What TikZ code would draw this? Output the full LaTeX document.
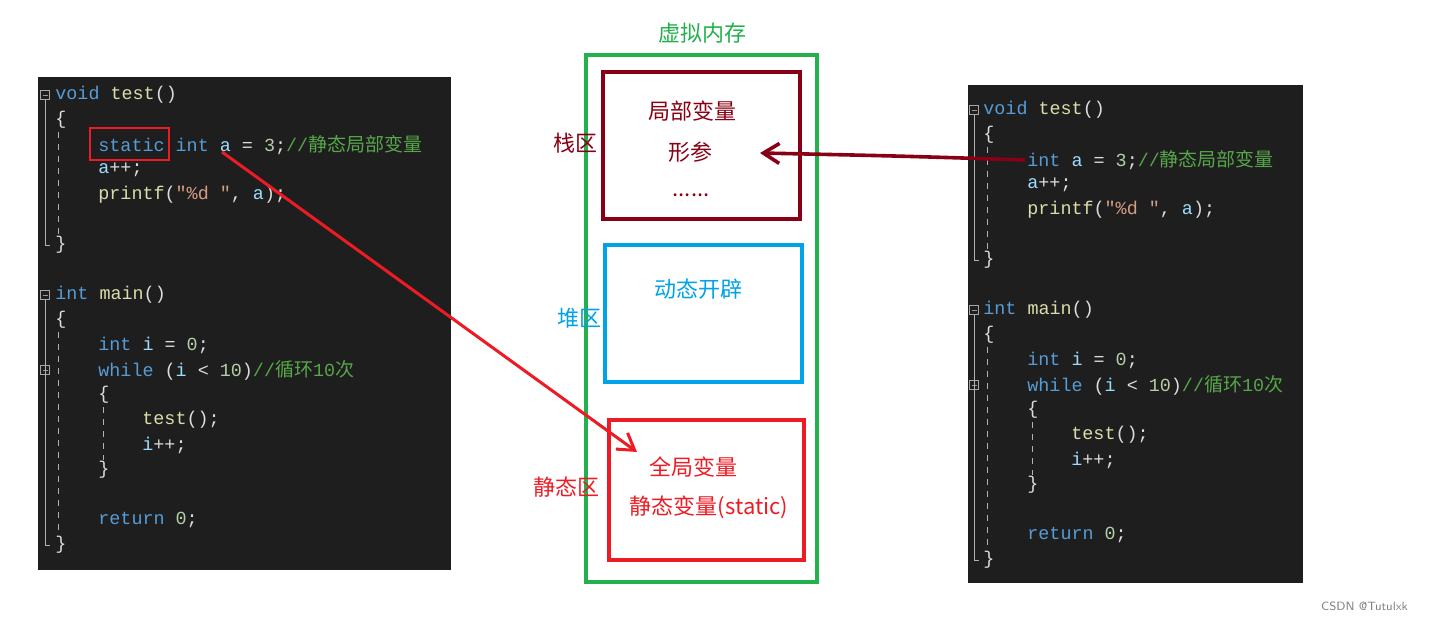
\documentclass[tikz,border=0pt]{standalone}
\usepackage{fontspec}
\usetikzlibrary{arrows.meta}
\setmonofont{Liberation Mono}
\newfontfamily\cjk{Noto Sans CJK SC}
\newfontfamily\cjkm{Noto Sans CJK SC}
\definecolor{bg}{HTML}{1E1E1E}
\definecolor{kw}{HTML}{569CD6}
\definecolor{fn}{HTML}{DCDCAA}
\definecolor{st}{HTML}{D69D85}
\definecolor{cm}{HTML}{57A64A}
\definecolor{nm}{HTML}{B5CEA8}
\definecolor{tx}{HTML}{DCDCDC}
\definecolor{vr}{HTML}{9CDCFE}
\definecolor{gbox}{HTML}{22B14C}
\definecolor{dred}{HTML}{880015}
\definecolor{hblue}{HTML}{00A2E8}
\definecolor{sred}{HTML}{ED1C24}
\newcommand{\cK}[1]{\textcolor{kw}{#1}}
\newcommand{\cF}[1]{\textcolor{fn}{#1}}
\newcommand{\cS}[1]{\textcolor{st}{#1}}
\newcommand{\cC}[1]{\textcolor{cm}{#1}}
\newcommand{\cN}[1]{\textcolor{nm}{#1}}
\newcommand{\cV}[1]{\textcolor{vr}{#1}}
\newcommand{\cZ}[1]{{\cjkm\fontsize{9.5}{10}\selectfont #1}}
\tikzset{code/.style={anchor=west,inner sep=0pt,text=tx,font=\ttfamily\fontsize{9.2}{10}\selectfont},
 lab/.style={font=\cjk\fontsize{11}{12}\selectfont,inner sep=0pt},
 fold/.style={draw=gray!70,line width=0.4pt,minimum size=4.5pt,inner sep=0pt,
   path picture={\draw[gray!80,line width=0.4pt] ([xshift=1pt]path picture bounding box.west) -- ([xshift=-1pt]path picture bounding box.east);}},
 guide/.style={draw=gray!60,line width=0.4pt}}
\begin{document}
\begin{tikzpicture}[x=0.5pt,y=-0.5pt]
\useasboundingbox (0,0) rectangle (1431,620);
\fill[white] (0,0) rectangle (1431,620);
% left panel
\fill[bg] (38,77) rectangle (451,570);
\node[code] (a1) at (55,95) {\cK{void} \cF{test}()};
\node[code] (a2) at (55,120) {\{};
\node[code] (a3) at (98,145) {\cK{static} \cK{int} \cV{a} = \cN{3};\cC{//\cZ{静态局部变量}}};
\node[code] (a4) at (98,170) {\cV{a}++;};
\node[code] (a5) at (98,195) {\cF{printf}(\cS{"\%d "}, \cV{a});};
\node[code] (a6) at (55,245) {\}};
\node[code] (a7) at (55,295) {\cK{int} \cF{main}()};
\node[code] (a8) at (55,320) {\{};
\node[code] (a9) at (98,345) {\cK{int} \cV{i} = \cN{0};};
\node[code] (a10) at (98,370) {\cK{while} (\cV{i} < \cN{10})\cC{//\cZ{循环}10\cZ{次}}};
\node[code] (a11) at (98,395) {\{};
\node[code] (a12) at (142,420) {\cF{test}();};
\node[code] (a13) at (142,445) {\cV{i}++;};
\node[code] (a14) at (98,470) {\}};
\node[code] (a15) at (98,520) {\cK{return} \cN{0};};
\node[code] (a16) at (55,545) {\}};
\foreach \y in {95,295,370} \node[fold] at (45,\y) {};
\draw[guide] (45,100) -- (45,245) -- (50,245);
\draw[guide] (45,300) -- (45,545) -- (50,545);
\draw[guide,dashed] (58,132) -- (58,235);
\draw[guide,dashed] (58,332) -- (58,535);
\draw[guide,dashed] (103,407) -- (103,460);
% right panel
\fill[bg] (968,85) rectangle (1303,583);
\node[code] (b1) at (983,110) {\cK{void} \cF{test}()};
\node[code] (b2) at (983,135) {\{};
\node[code] (b3) at (1027,160) {\cK{int} \cV{a} = \cN{3};\cC{//\cZ{静态局部变量}}};
\node[code] (b4) at (1027,185) {\cV{a}++;};
\node[code] (b5) at (1027,210) {\cF{printf}(\cS{"\%d "}, \cV{a});};
\node[code] (b6) at (983,260) {\}};
\node[code] (b7) at (983,310) {\cK{int} \cF{main}()};
\node[code] (b8) at (983,335) {\{};
\node[code] (b9) at (1027,360) {\cK{int} \cV{i} = \cN{0};};
\node[code] (b10) at (1027,385) {\cK{while} (\cV{i} < \cN{10})\cC{//\cZ{循环}10\cZ{次}}};
\node[code] (b11) at (1027,410) {\{};
\node[code] (b12) at (1071,435) {\cF{test}();};
\node[code] (b13) at (1071,460) {\cV{i}++;};
\node[code] (b14) at (1027,485) {\}};
\node[code] (b15) at (1027,535) {\cK{return} \cN{0};};
\node[code] (b16) at (983,560) {\}};
\foreach \y in {110,310,385} \node[fold] at (974,\y) {};
\draw[guide] (974,115) -- (974,260) -- (979,260);
\draw[guide] (974,315) -- (974,560) -- (979,560);
\draw[guide,dashed] (987,147) -- (987,250);
\draw[guide,dashed] (987,347) -- (987,550);
\draw[guide,dashed] (1032,422) -- (1032,475);
% memory
\node[lab,text=gbox] (title) at (702,33) {虚拟内存};
\draw[gbox,line width=1.6pt] (586,55) rectangle (817,582);
\draw[dred,line width=1.6pt] (603,72) rectangle (800,219);
\node[lab,text=dred] (s1) at (692,111) {局部变量};
\node[lab,text=dred] (s2) at (690,152) {形参};
\node[lab,text=dred] (s3) at (691,195) {......};
\node[lab,text=dred] (sl) at (575,143) {栈区};
\draw[hblue,line width=1.6pt] (605,245) rectangle (802,382);
\node[lab,text=hblue] (h1) at (698,289) {动态开辟};
\node[lab,text=hblue] (hl) at (579,318) {堆区};
\draw[sred,line width=1.6pt] (609,420) rectangle (804,560);
\node[lab,text=sred] (g1) at (693,467) {全局变量};
\node[lab,text=sred] (g2) at (709,507) {静态变量(static)};
\node[lab,text=sred] (gl) at (566,487) {静态区};
% highlight & arrows
\draw[sred,line width=1.2pt] (90,128) rectangle (169,160);
\coordinate (p1) at (222,152);
\coordinate (p2) at (637,452);
\draw[sred,line width=1.5pt,-{Straight Barb[length=8pt,width=10pt]}] (p1) -- (p2);
\coordinate (q1) at (1025,160);
\coordinate (q2) at (760,153);
\draw[dred,line width=1.8pt,-{Straight Barb[length=8pt,width=10pt]}] (q1) .. controls (900,156) .. (q2);
\node[font=\fontsize{6}{7}\selectfont\sffamily,text=gray,anchor=east] (wm) at (1415,606) {CSDN @Tutulxk};
\end{tikzpicture}
\end{document}
